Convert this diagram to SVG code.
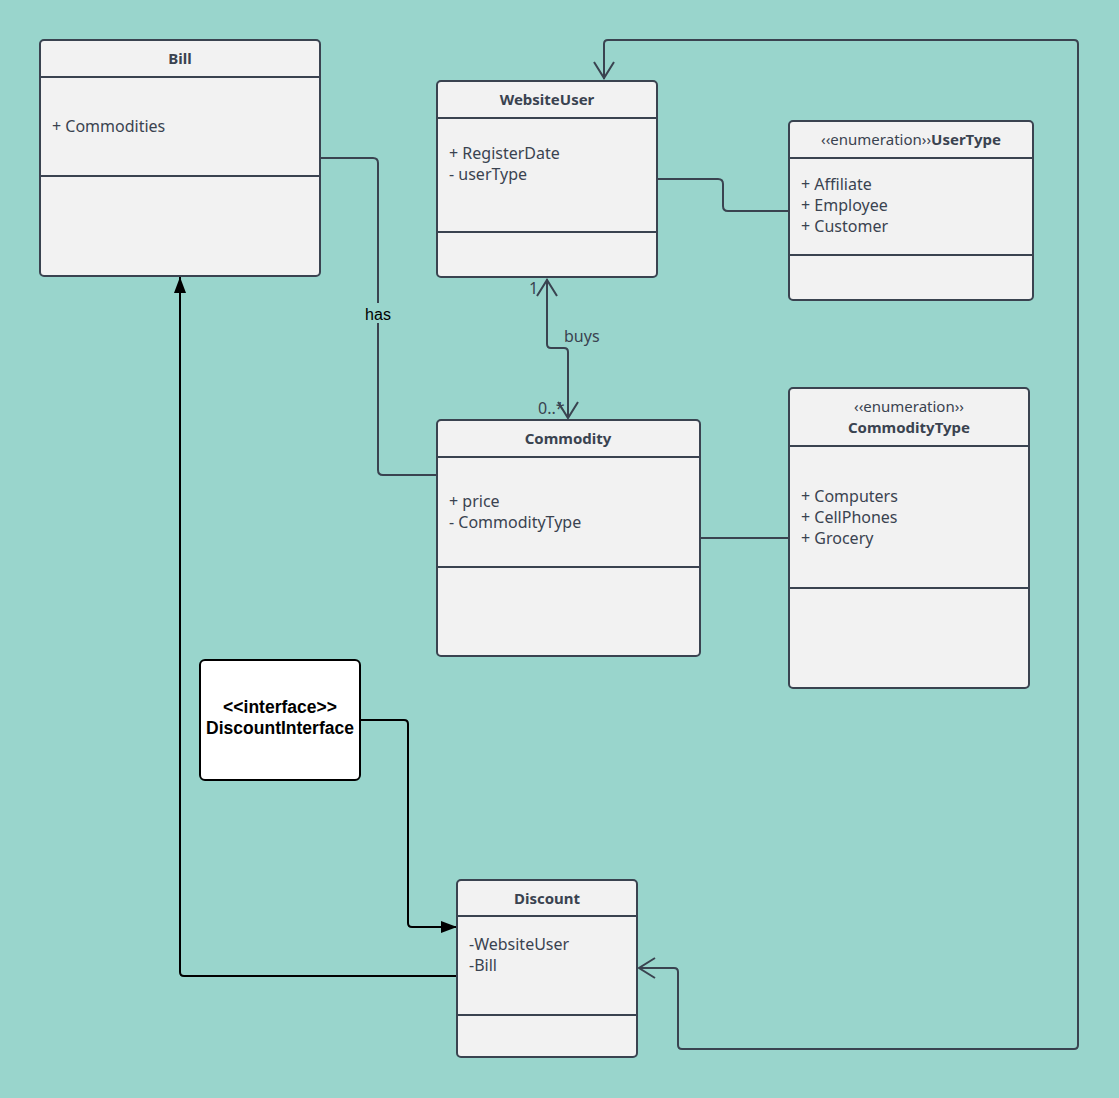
<svg xmlns="http://www.w3.org/2000/svg" width="1119" height="1098" viewBox="0 0 1119 1098">
<style>
.box{fill:#f2f2f2;stroke:#3a4350;stroke-width:2}
.div{stroke:#3a4350;stroke-width:2}
.t{font-family:"Noto Sans","Liberation Sans",sans-serif;font-size:16px;fill:#3a4350}
.b{font-weight:bold;font-size:15px}
.c{text-anchor:middle}
.ln{fill:none;stroke:#3a4350;stroke-width:2;stroke-linejoin:round}
.bk{fill:none;stroke:#000;stroke-width:2;stroke-linejoin:round}
.open{fill:none;stroke:#3a4350;stroke-width:2}
.it{font-family:"Liberation Sans",Arial,sans-serif;font-size:17.5px;font-weight:bold;fill:#000;text-anchor:middle}
</style>
<defs>
<marker id="filled" viewBox="0 0 16 12" refX="16" refY="6" markerWidth="16" markerHeight="12" markerUnits="userSpaceOnUse" orient="auto"><path d="M0,0 L16,6 L0,12 Z" fill="#000"/></marker>
</defs>
<rect width="1119" height="1098" fill="#99d5cc"/>
<g id="connectors">
<path class="ln" d="M320,158 H373 Q378,158 378,163 V470 Q378,475 383,475 H437"/>
<rect x="362" y="303" width="34" height="20" fill="#99d5cc"/>
<text x="378" y="320" class="c" style="font-family:'Liberation Sans',Arial,sans-serif;font-size:16px;fill:#000">has</text>
<path class="ln" d="M657,179 H718 Q723,179 723,184 V206 Q723,211 728,211 H789"/>
<path class="ln" d="M547,279 V344 Q547,348 551,348 H564 Q568,348 568,352 V418"/>
<path class="open" d="M537,296 L547,280 L557,296"/>
<path class="open" d="M558,402 L568,418 L578,402"/>
<text x="529" y="294" class="t">1</text>
<text x="538" y="414" class="t">0..*</text>
<text x="564" y="342" class="t">buys</text>
<path class="ln" d="M700,538 H789"/>
<path class="bk" d="M360,720 H404 Q408,720 408,724 V923 Q408,927 412,927 H457" marker-end="url(#filled)"/>
<path class="bk" d="M457,976 H184 Q180,976 180,972 V277" marker-end="url(#filled)"/>
<path class="ln" d="M639,968 H674 Q678,968 678,972 V1045 Q678,1049 682,1049 H1074 Q1078,1049 1078,1045 V44 Q1078,40 1074,40 H608 Q604,40 604,44 V79"/>
<path class="open" d="M655,958 L639,968 L655,978"/>
<path class="open" d="M594,62 L604,78 L614,62"/>
</g>
<g id="bill">
<rect class="box" x="40" y="40" width="280" height="236" rx="4"/>
<line class="div" x1="40" y1="77" x2="320" y2="77"/>
<line class="div" x1="40" y1="176" x2="320" y2="176"/>
<text x="180" y="64" class="t b c">Bill</text>
<text x="52" y="132" class="t">+ Commodities</text>
</g>
<g id="websiteuser">
<rect class="box" x="437" y="81" width="220" height="196" rx="4"/>
<line class="div" x1="437" y1="118" x2="657" y2="118"/>
<line class="div" x1="437" y1="232" x2="657" y2="232"/>
<text x="547" y="105" class="t b c">WebsiteUser</text>
<text x="449" y="159" class="t">+ RegisterDate</text>
<text x="449" y="180" class="t">- userType</text>
</g>
<g id="usertype">
<rect class="box" x="789" y="121" width="244" height="179" rx="4"/>
<line class="div" x1="789" y1="158" x2="1033" y2="158"/>
<line class="div" x1="789" y1="255" x2="1033" y2="255"/>
<text x="911" y="145" class="t c" style="font-size:15px">‹‹enumeration››<tspan class="b">UserType</tspan></text>
<text x="801" y="190" class="t">+ Affiliate</text>
<text x="801" y="211" class="t">+ Employee</text>
<text x="801" y="232" class="t">+ Customer</text>
</g>
<g id="commodity">
<rect class="box" x="437" y="420" width="263" height="236" rx="4"/>
<line class="div" x1="437" y1="457" x2="700" y2="457"/>
<line class="div" x1="437" y1="567" x2="700" y2="567"/>
<text x="568" y="444" class="t b c">Commodity</text>
<text x="449" y="507" class="t">+ price</text>
<text x="449" y="528" class="t">- CommodityType</text>
</g>
<g id="commoditytype">
<rect class="box" x="789" y="388" width="240" height="300" rx="4"/>
<line class="div" x1="789" y1="446" x2="1029" y2="446"/>
<line class="div" x1="789" y1="588" x2="1029" y2="588"/>
<text x="909" y="412" class="t c" style="font-size:15px">‹‹enumeration››</text>
<text x="909" y="433" class="t b c">CommodityType</text>
<text x="801" y="502" class="t">+ Computers</text>
<text x="801" y="523" class="t">+ CellPhones</text>
<text x="801" y="544" class="t">+ Grocery</text>
</g>
<g id="discountinterface">
<rect x="200" y="660" width="160" height="120" rx="5" fill="#fff" stroke="#000" stroke-width="2"/>
<text x="280" y="713" class="it">&lt;&lt;interface&gt;&gt;</text>
<text x="280" y="734" class="it">DiscountInterface</text>
</g>
<g id="discount">
<rect class="box" x="457" y="880" width="180" height="177" rx="4"/>
<line class="div" x1="457" y1="916" x2="637" y2="916"/>
<line class="div" x1="457" y1="1015" x2="637" y2="1015"/>
<text x="547" y="904" class="t b c">Discount</text>
<text x="469" y="950" class="t">-WebsiteUser</text>
<text x="469" y="971" class="t">-Bill</text>
</g>
</svg>
